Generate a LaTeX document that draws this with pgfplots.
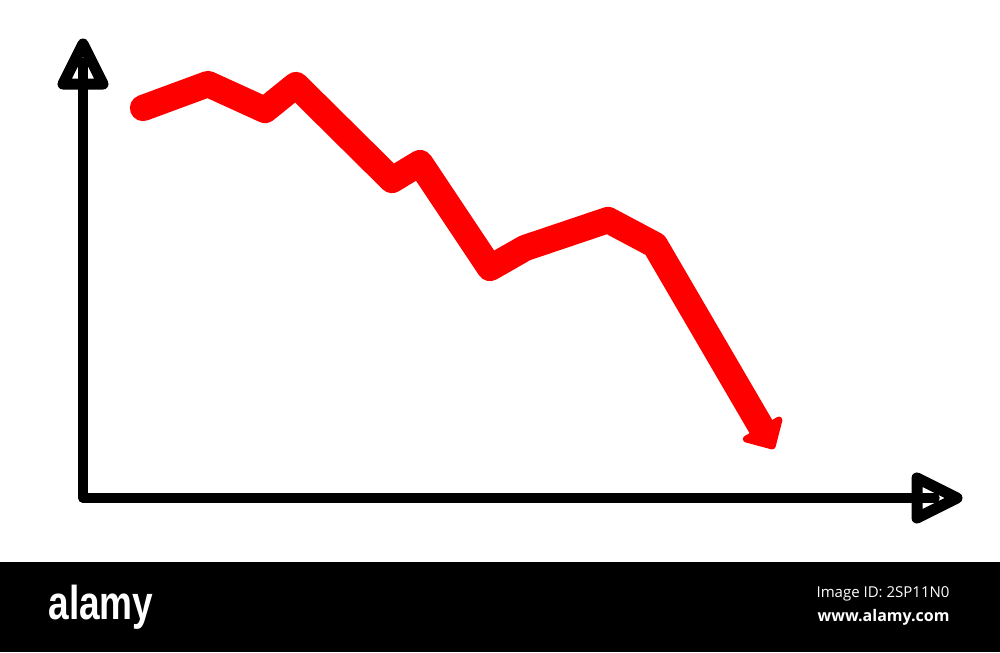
\documentclass[border=0pt]{standalone}
\usepackage{pgfplots}
\pgfplotsset{compat=1.18}
\usepackage{fontspec}
\setmainfont{Open Sans}
\newfontfamily\logofont{Liberation Sans}
\usetikzlibrary{arrows.meta}
\begin{document}
\begin{tikzpicture}
\begin{axis}[
  x=0.4pt, y=0.4pt,
  xmin=0, xmax=1000, ymin=0, ymax=652,
  hide axis, clip=false,
  anchor=origin, at={(0,0)},
]
% black band
\fill[black] (axis cs:0,0) rectangle (axis cs:1000,90);
% axes
\draw[line width=3.8pt, line cap=round] (axis cs:83,154) -- (axis cs:83,590);
\draw[line width=3.8pt, line cap=round] (axis cs:83,154) -- (axis cs:935,154);
\draw[line width=4.4pt, line join=round] (axis cs:63,568) -- (axis cs:83,608) -- (axis cs:103,568) -- cycle;
\draw[line width=4.4pt, line join=round] (axis cs:917,174) -- (axis cs:957,154) -- (axis cs:917,134) -- cycle;
% data
\addplot[color=red, line width=10.5pt, line join=round, line cap=round,
  -{Triangle[round, length=11pt, width=21pt, line width=7pt]}] coordinates {
  (143,544) (208,568) (265,542) (296,567) (392,472) (420,489)
  (490,384) (525,404) (608,432) (655,407) (774,203)
};
% footer text
\node[anchor=west, text=white, inner sep=0pt] at (axis cs:48,45)
  {\scalebox{0.78}[1]{\logofont\bfseries\fontsize{19}{19}\selectfont alamy}};
\node[anchor=east, text=white, inner sep=0pt] at (axis cs:950,58)
  {\fontsize{6}{6}\selectfont Image ID: 2SP11N0};
\node[anchor=east, text=white, inner sep=0pt] at (axis cs:950,35)
  {\fontsize{6.4}{6.4}\selectfont\bfseries www.alamy.com};
\end{axis}
\pgfresetboundingbox
\useasboundingbox (0,0) rectangle (400pt,260.8pt);
\end{tikzpicture}
\end{document}
